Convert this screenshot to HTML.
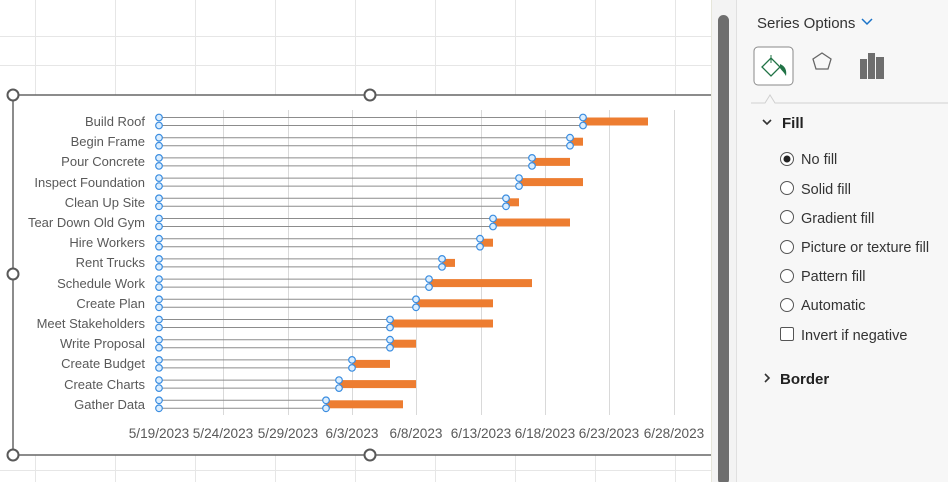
<!DOCTYPE html>
<html><head><meta charset="utf-8"><style>
body{margin:0;width:948px;height:482px;overflow:hidden;background:#fff;font-family:"Liberation Sans",sans-serif;position:relative}
.p{position:absolute}
</style></head><body>
<svg class="p" style="left:0;top:0" width="948" height="482" xmlns="http://www.w3.org/2000/svg" font-family="Liberation Sans, sans-serif">
<g stroke="#e6e6e6" stroke-width="1">
<line x1="35.5" y1="0" x2="35.5" y2="482"/><line x1="115.5" y1="0" x2="115.5" y2="482"/><line x1="195.5" y1="0" x2="195.5" y2="482"/><line x1="275.5" y1="0" x2="275.5" y2="482"/><line x1="355.5" y1="0" x2="355.5" y2="482"/><line x1="435.5" y1="0" x2="435.5" y2="482"/><line x1="515.5" y1="0" x2="515.5" y2="482"/><line x1="595.5" y1="0" x2="595.5" y2="482"/><line x1="675.5" y1="0" x2="675.5" y2="482"/>
<line x1="0" y1="36.5" x2="712" y2="36.5"/><line x1="0" y1="65.5" x2="712" y2="65.5"/><line x1="0" y1="470.5" x2="712" y2="470.5"/>
</g>
<rect x="13" y="95" width="700" height="360" fill="#fff" stroke="#666" stroke-width="1.5"/>
<g stroke="#d9d9d9"><line x1="223.5" y1="110" x2="223.5" y2="415"/><line x1="288.5" y1="110" x2="288.5" y2="415"/><line x1="352.5" y1="110" x2="352.5" y2="415"/><line x1="416.5" y1="110" x2="416.5" y2="415"/><line x1="481.5" y1="110" x2="481.5" y2="415"/><line x1="545.5" y1="110" x2="545.5" y2="415"/><line x1="609.5" y1="110" x2="609.5" y2="415"/><line x1="674.5" y1="110" x2="674.5" y2="415"/></g>
<g id="rows"></g>
<g font-size="13" fill="#595959" text-anchor="end">
<text x="145" y="126">Build Roof</text><text x="145" y="146">Begin Frame</text><text x="145" y="166">Pour Concrete</text><text x="145" y="187">Inspect Foundation</text><text x="145" y="207">Clean Up Site</text><text x="145" y="227">Tear Down Old Gym</text><text x="145" y="247">Hire Workers</text><text x="145" y="267">Rent Trucks</text><text x="145" y="288">Schedule Work</text><text x="145" y="308">Create Plan</text><text x="145" y="328">Meet Stakeholders</text><text x="145" y="348">Write Proposal</text><text x="145" y="368">Create Budget</text><text x="145" y="389">Create Charts</text><text x="145" y="409">Gather Data</text>
</g>
<g font-size="13.6" fill="#595959" text-anchor="middle">
<text x="159" y="438">5/19/2023</text><text x="223" y="438">5/24/2023</text><text x="288" y="438">5/29/2023</text><text x="352" y="438">6/3/2023</text><text x="416" y="438">6/8/2023</text><text x="481" y="438">6/13/2023</text><text x="545" y="438">6/18/2023</text><text x="609" y="438">6/23/2023</text><text x="674" y="438">6/28/2023</text>
</g>
<g fill="#fff" stroke="#595959" stroke-width="2">
<circle cx="13" cy="95" r="5.5"/><circle cx="370" cy="95" r="5.5"/><circle cx="13" cy="274" r="5.5"/><circle cx="13" cy="455" r="5.5"/><circle cx="370" cy="455" r="5.5"/>
</g>
<rect x="711" y="0" width="25" height="482" fill="#f3f3f3"/>
<line x1="711.5" y1="0" x2="711.5" y2="482" stroke="#e6e6da"/>
<rect x="718" y="15" width="11" height="470" rx="5.5" fill="#6e6e6e"/>
<rect x="736" y="0" width="212" height="482" fill="#f7f7f7"/>
<line x1="736.5" y1="0" x2="736.5" y2="482" stroke="#e0e0e0"/>
<text x="757" y="28" font-size="15" fill="#333">Series Options</text>
<path d="M862 19l5 5 5-5" fill="none" stroke="#1a73c8" stroke-width="1.5"/>
<rect x="754" y="47" width="39" height="38" rx="4" fill="#fff" stroke="#8a8a8a"/>
<path d="M762 67l9-9 9 9-9 9z" fill="none" stroke="#217346" stroke-width="1.3"/><path d="M780 64c5 2 7 6 6 12-2-4-5-6-6-8z" fill="#217346"/><line x1="771" y1="55" x2="771" y2="63" stroke="#217346"/>
<path d="M822 53l9 6-3 10h-12l-3-10z" fill="none" stroke="#666" stroke-width="1.3"/>
<rect x="860" y="59" width="7" height="20" fill="#6e6e6e"/><rect x="868" y="53" width="7" height="26" fill="#6e6e6e"/><rect x="876" y="57" width="8" height="22" fill="#6e6e6e"/>
<path d="M751 103h14l5-8 5 8h173" fill="none" stroke="#d0d0d0"/>
<path d="M763 120l4 4 4-4" fill="none" stroke="#333" stroke-width="1.6"/>
<text x="782" y="128" font-size="15" font-weight="bold" fill="#222">Fill</text>
<g font-size="14.5" fill="#333">
<circle cx="787" cy="159" r="6.5" fill="#fff" stroke="#555"/><circle cx="787" cy="159" r="3.5" fill="#222"/><text x="801" y="164">No fill</text>
<circle cx="787" cy="188" r="6.5" fill="#fff" stroke="#555"/><text x="801" y="194">Solid fill</text>
<circle cx="787" cy="217" r="6.5" fill="#fff" stroke="#555"/><text x="801" y="223">Gradient fill</text>
<circle cx="787" cy="247" r="6.5" fill="#fff" stroke="#555"/><text x="801" y="252">Picture or texture fill</text>
<circle cx="787" cy="276" r="6.5" fill="#fff" stroke="#555"/><text x="801" y="281">Pattern fill</text>
<circle cx="787" cy="305" r="6.5" fill="#fff" stroke="#555"/><text x="801" y="310">Automatic</text>
<rect x="780.5" y="327.5" width="13" height="13" rx="1.5" fill="#fff" stroke="#555"/><text x="801" y="340">Invert if negative</text>
</g>
<path d="M765 374l4 4-4 4" fill="none" stroke="#333" stroke-width="1.6"/>
<text x="780" y="384" font-size="15" font-weight="bold" fill="#222">Border</text>
</svg>
<script>
var d=[[583,648],[570,583],[532,570],[519,583],[506,519],[493,570],[480,493],[442,455],[429,532],[416,493],[390,493],[390,416],[352,390],[339,416],[326,403]];
var s='';
d.forEach(function(r,i){var y=121.5+i*20.2;
s+='<line x1="159" y1="'+(y-4)+'" x2="'+r[0]+'" y2="'+(y-4)+'" stroke="#8c8c8c"/><line x1="159" y1="'+(y+4)+'" x2="'+r[0]+'" y2="'+(y+4)+'" stroke="#8c8c8c"/>';
s+='<rect x="'+r[0]+'" y="'+(y-4)+'" width="'+(r[1]-r[0])+'" height="8" fill="#ed7d31"/>';
[159,r[0]].forEach(function(x){[y-4,y+4].forEach(function(yy){s+='<circle cx="'+x+'" cy="'+yy+'" r="3.3" fill="#dbeeff" stroke="#3b8de0" stroke-width="1.2"/>';});});
});
document.getElementById('rows').innerHTML=s;
</script>
</body></html>
